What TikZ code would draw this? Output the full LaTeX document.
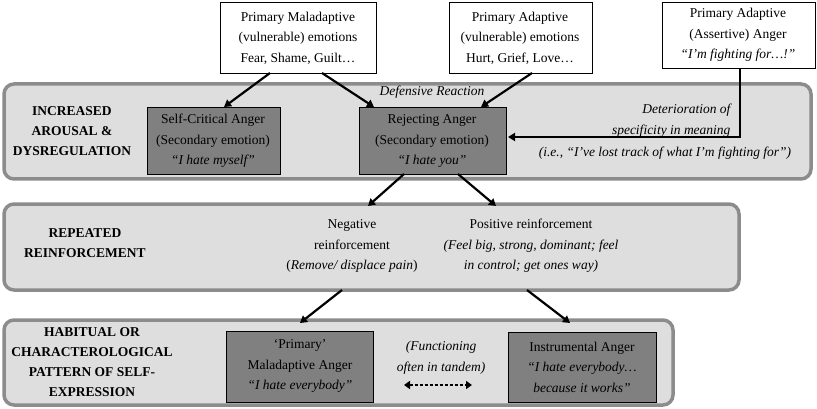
\documentclass[tikz,border=0pt]{standalone}
\usepackage{fontspec}
\setmainfont{Liberation Serif}
\usetikzlibrary{arrows.meta}
\begin{document}
\begin{tikzpicture}[x=1pt,y=-1pt,
  band/.style={draw=black!45,line width=3.5pt,fill=black!13,rounded corners=10pt},
  wbox/.style={draw=black,fill=white,line width=0.8pt},
  gbox/.style={draw=black,fill=black!50,line width=0.8pt},
  txt/.style={align=center,font=\fontsize{13.5}{20.5}\selectfont},
  lab/.style={align=center,font=\fontsize{13.5}{20}\selectfont\bfseries},
  arr/.style={line width=2.2pt,-{Triangle[length=7pt,width=8pt]}}]
\useasboundingbox (0,0) rectangle (817,409);
% bands
\path[band] (4,84) rectangle (811,179);
\path[band] (4,204) rectangle (739,290);
\path[band] (4,320) rectangle (673,405);
% top boxes
\draw[wbox] (220,2) rectangle (376,73); \node[txt] (pm) at (298,38) {Primary Maladaptive\\(vulnerable) emotions\\Fear, Shame, Guilt\ldots};
\draw[wbox] (449,2) rectangle (592,73); \node[txt] (pa) at (520,38) {Primary Adaptive\\(vulnerable) emotions\\Hurt, Grief, Love\ldots};
\draw[wbox] (662,2) rectangle (815,68); \node[txt] (aa) at (738,35) {Primary Adaptive\\(Assertive) Anger\\\textit{``I'm fighting for\ldots!''}};
% band1
\node[lab] (l1) at (72,131) {INCREASED\\AROUSAL \&\\DYSREGULATION};
\draw[gbox] (147,107) rectangle (280,174); \node[txt] (sc) at (213,141) {Self-Critical Anger\\(Secondary emotion)\\\textit{``I hate myself''}};
\draw[gbox] (359,107) rectangle (506,174); \node[txt] (ra) at (432,141) {Rejecting Anger\\(Secondary emotion)\\\textit{``I hate you''}};
\node[txt,font=\fontsize{13.5}{16}\selectfont\itshape] (dr) at (432,92) {Defensive Reaction};
\node[txt,font=\fontsize{13.5}{21}\selectfont\itshape,align=right,anchor=east] (det) at (734,121) {Deterioration of\\specificity in meaning};
\node[txt,font=\fontsize{13.5}{16}\selectfont\itshape] (ie) at (665,153) {(i.e., ``I've lost track of what I'm fighting for'')};
\draw[arr] (270,73) -- (224,107);
\draw[arr] (322,73) -- (374,107);
\draw[arr] (532,73) -- (481,107);
\draw[arr] (740,68) -- (740,137) -- (508,137);
% band2
\node[lab] (l2) at (85,243) {REPEATED\\REINFORCEMENT};
\node[txt] (nr) at (352,246) {Negative\\reinforcement\\(\textit{Remove/ displace pain})};
\node[txt] (pr) at (531,246) {Positive reinforcement\\\textit{(Feel big, strong, dominant; feel}\\\textit{in control; get ones way)}};
\draw[arr] (404,174) -- (368,206);
\draw[arr] (458,174) -- (496,206);
% band3
\node[lab] (l3) at (92,362) {HABITUAL OR\\CHARACTEROLOGICAL\\PATTERN OF SELF-\\EXPRESSION};
\draw[gbox] (226,331) rectangle (373,402); \node[txt] (pma) at (300,366) {`Primary'\\Maladaptive Anger\\\textit{``I hate everybody''}};
\draw[gbox] (508,332) rectangle (656,402); \node[txt] (ia) at (582,367) {Instrumental Anger\\\textit{``I hate everybody\ldots}\\\textit{because it works''}};
\node[txt,font=\fontsize{13.5}{21}\selectfont\itshape] (fn) at (441,358) {(Functioning\\often in tandem)};
\draw[line width=2pt,dash pattern=on 3pt off 2pt,{Triangle[length=6pt,width=8pt]}-{Triangle[length=6pt,width=8pt]}] (404,385) -- (472,385);
\draw[arr] (342,290) -- (300,323);
\draw[arr] (527,290) -- (570,323);
\end{tikzpicture}
\end{document}
